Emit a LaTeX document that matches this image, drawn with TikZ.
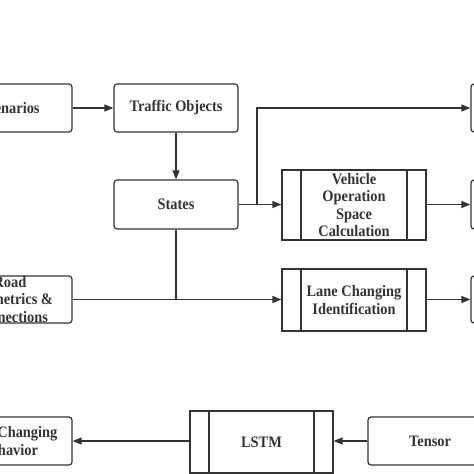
\documentclass[tikz,border=0pt]{standalone}
\usepackage{fontspec}
\setmainfont{Liberation Serif}
\newfontfamily\boxfont[FakeStretch=0.9]{Liberation Serif}
\usetikzlibrary{arrows.meta}
\tikzset{>={Stealth[length=9pt,width=7pt,inset=0pt]}}
\colorlet{ink}{black!80}
\tikzset{
  block/.style={draw=ink, text=ink, line width=1.2pt, rounded corners=3pt,
    minimum width=124pt, minimum height=48pt, inner sep=0pt, align=center,
    font=\boxfont\bfseries\fontsize{16}{17.3}\selectfont},
  procbox/.style={block, rounded corners=0pt, minimum width=144pt,
    path picture={\draw[ink, line width=1.2pt]
      ([xshift=19pt]path picture bounding box.north west) -- ([xshift=19pt]path picture bounding box.south west)
      ([xshift=-19pt]path picture bounding box.north east) -- ([xshift=-19pt]path picture bounding box.south east);}},
  link/.style={->, draw=ink, line width=1.2pt}
}

\begin{document}
\begin{tikzpicture}[x=1pt,y=-1pt]

            \useasboundingbox (0,0) rectangle (474,474);
            \clip (0,0) rectangle (474,474);

            % Input boxes on the left
            \node[block] (scen) at (10,108) {Scenarios};
            \node[block, minimum height=47pt] (road) at (10,299.5) {Road\\Geometrics \&\\Connections};
            \node[block] (behav) at (10,441) {Lane Changing\\Behavior};

            % Middle column
            \node[block] (traffic) at (176,108) {Traffic Objects};
            \node[block, minimum height=49pt] (states) at (176,204.5) {States};

            % Process boxes
            \node[procbox, minimum height=70pt] (vosc) at (354,205) {Vehicle\\Operation\\Space\\Calculation};
            \node[procbox, minimum height=62pt] (lci) at (354,300) {Lane Changing\\Identification};
            \node[procbox, minimum width=143pt, minimum height=62pt] (lstm) at (261.5,442) {LSTM};
            \node[block] (tensor) at (430,441) {Tensor};

            % Boxes on the right edge
            \node[block] (out1) at (533,108) {};
            \node[block, minimum height=49pt] (out2) at (533,204.5) {};
            \node[block, minimum height=47pt] (out3) at (533,299.5) {};

            % Arrows
            \draw[link] (scen.east) -- (traffic.west);
            \draw[link] (traffic.south) -- (states.north);
            \draw[link] (states.east) -- (vosc.west |- states.east);
            \coordinate (split) at (257,204.5);
            \draw[link] (split) |- (out1.west);
            \draw[link] (vosc.east |- out2.west) -- (out2.west);
            \draw[link] (road.east) -- (lci.west |- road.east);
            \draw[draw=ink, line width=1.2pt] (states.south) -- (states.south |- road.east);
            \draw[link] (lci.east |- out3.west) -- (out3.west);
            \draw[link] (tensor.west) -- (lstm.east |- tensor.west);
            \draw[link] (lstm.west |- behav.east) -- (behav.east);

\end{tikzpicture}
\end{document}
